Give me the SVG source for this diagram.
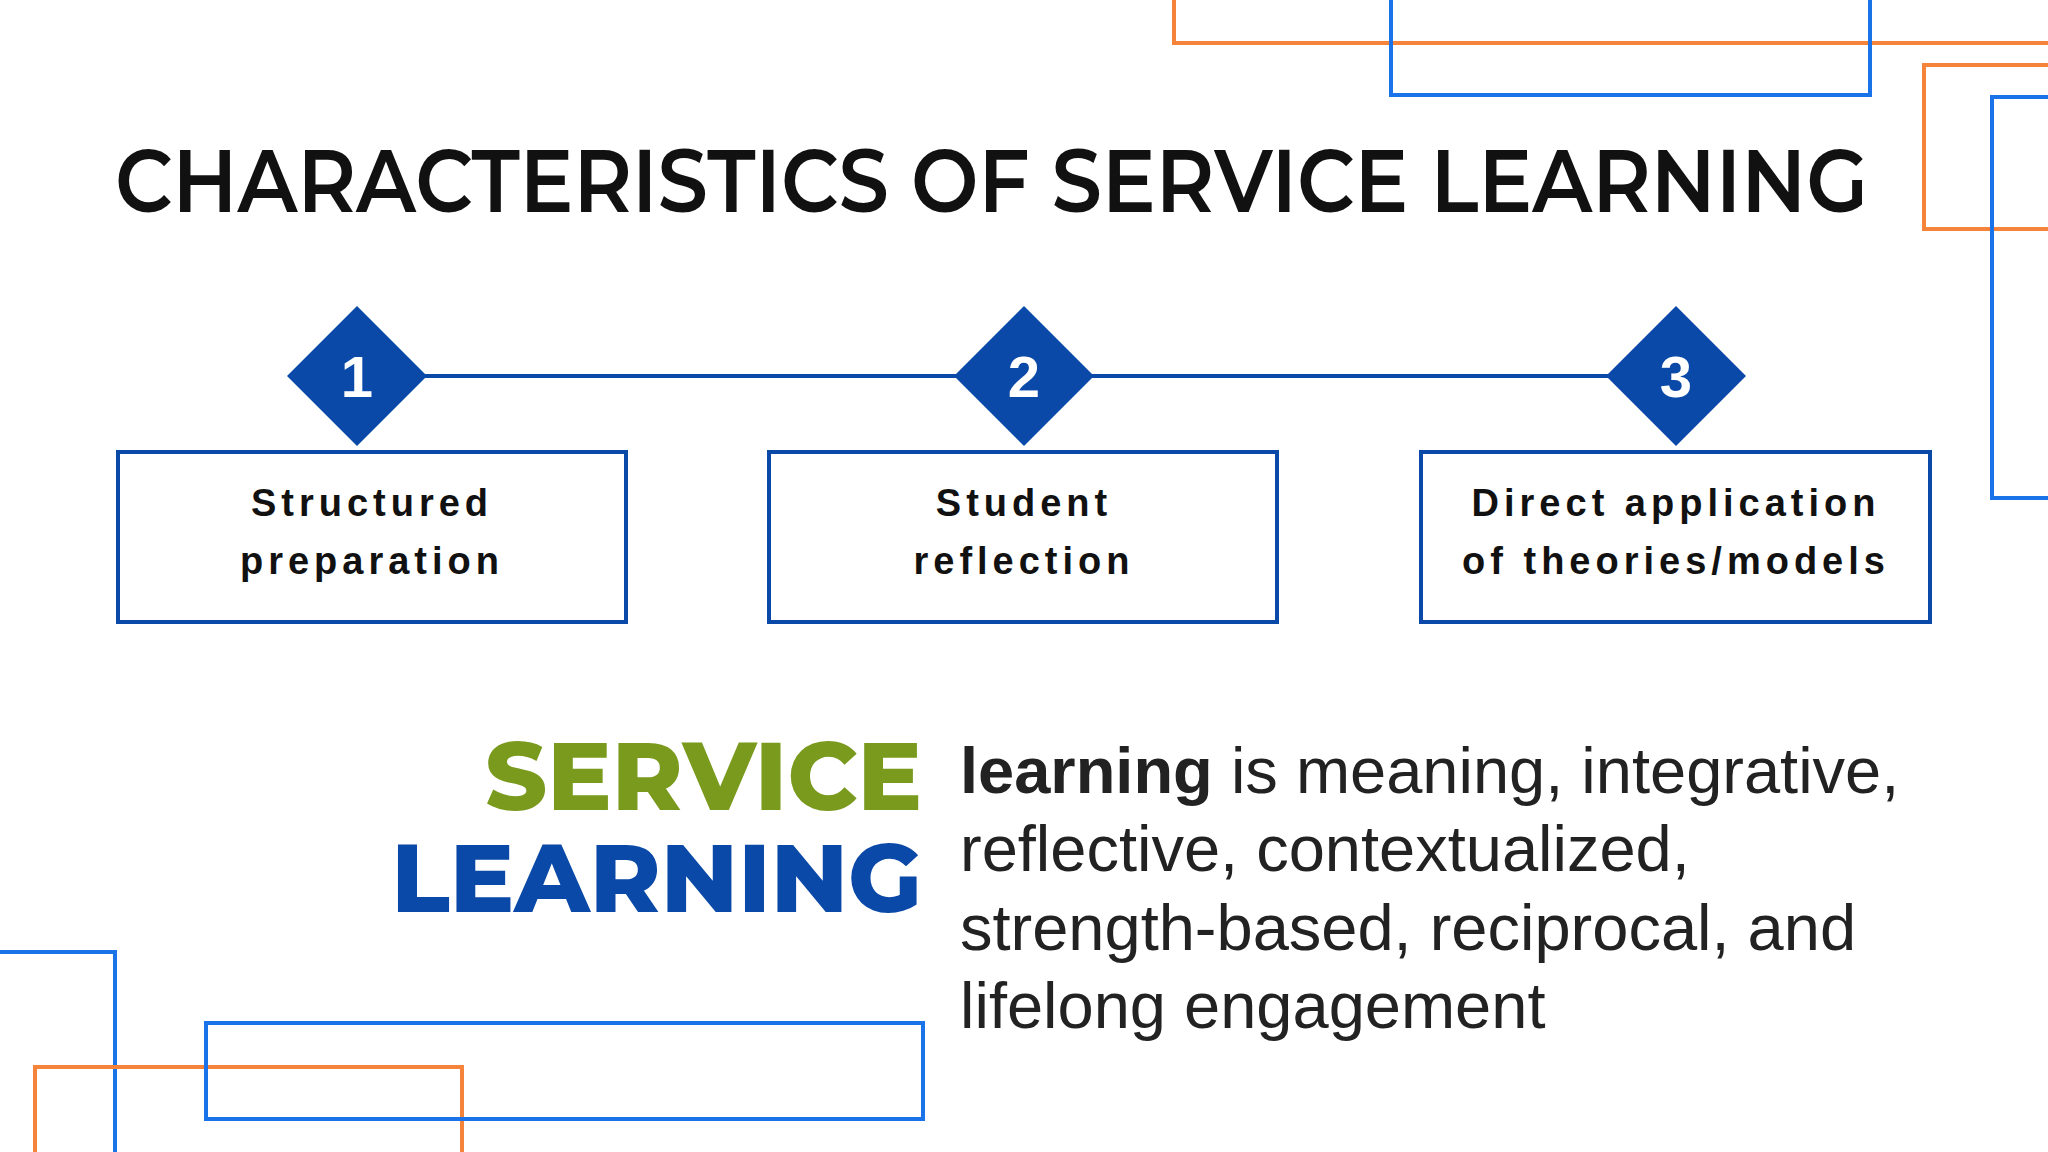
<svg xmlns="http://www.w3.org/2000/svg" width="2048" height="1152" viewBox="0 0 2048 1152">
<style>
.deco-o{fill:none;stroke:#f5843a;stroke-width:4}
.deco-b{fill:none;stroke:#1a73e8;stroke-width:4}
.box{fill:#fff;stroke:#0a49a8;stroke-width:4}
.dia{fill:#0a49a8}
.num{font-family:"Liberation Sans",Arial,sans-serif;font-weight:bold;font-size:58px;fill:#fff;text-anchor:middle}
.lbl{font-family:"Liberation Sans",Arial,sans-serif;font-weight:bold;font-size:38px;letter-spacing:5px;fill:#111;text-anchor:middle}
.para{font-family:"Liberation Sans",Arial,sans-serif;font-size:65px;fill:#222}
.big{font-family:Montserrat,"Open Sans","Liberation Sans",sans-serif;font-weight:800;font-size:96px;text-anchor:end}
</style>
<rect width="2048" height="1152" fill="#fff"/>
<g id="decor">
<rect class="deco-o" x="1174" y="-10" width="900" height="53"/>
<rect class="deco-b" x="1391" y="-10" width="479" height="105"/>
<rect class="deco-o" x="1924" y="65" width="200" height="164"/>
<rect class="deco-b" x="1992" y="97" width="200" height="401"/>
<rect class="deco-b" x="-10" y="952" width="125" height="250"/>
<rect class="deco-o" x="35" y="1067" width="427" height="150"/>
<rect class="deco-b" x="206" y="1023" width="717" height="96"/>
</g>
<text x="115" y="212" font-family="Montserrat,'Open Sans','Liberation Sans',sans-serif" font-weight="600" font-size="88" fill="#111" textLength="1753" lengthAdjust="spacingAndGlyphs">CHARACTERISTICS OF SERVICE LEARNING</text>
<g id="connectors"><line x1="357" y1="376" x2="1676" y2="376" stroke="#0a49a8" stroke-width="4"/></g>
<g id="n1">
<polygon class="dia" points="357,306 427,376 357,446 287,376"/>
<text class="num" x="357" y="397">1</text>
<rect class="box" x="118" y="452" width="508" height="170"/>
<text class="lbl" x="372" y="516">Structured</text>
<text class="lbl" x="372" y="574">preparation</text>
</g>
<g id="n2">
<polygon class="dia" points="1024,306 1094,376 1024,446 954,376"/>
<text class="num" x="1024" y="397">2</text>
<rect class="box" x="769" y="452" width="508" height="170"/>
<text class="lbl" x="1024" y="516">Student</text>
<text class="lbl" x="1024" y="574">reflection</text>
</g>
<g id="n3">
<polygon class="dia" points="1676,306 1746,376 1676,446 1606,376"/>
<text class="num" x="1676" y="397">3</text>
<rect class="box" x="1421" y="452" width="509" height="170"/>
<text class="lbl" x="1676" y="516">Direct application</text>
<text class="lbl" x="1676" y="574">of theories/models</text>
</g>
<g id="heading">
<text class="big" x="922" y="810" fill="#7a9a1e">SERVICE</text>
<text class="big" x="922" y="912" fill="#0a49a8">LEARNING</text>
</g>
<g id="para">
<text class="para" x="960" y="793"><tspan font-weight="bold">learning</tspan> is meaning, integrative,</text>
<text class="para" x="960" y="871">reflective, contextualized,</text>
<text class="para" x="960" y="950">strength-based, reciprocal, and</text>
<text class="para" x="960" y="1028">lifelong engagement</text>
</g>
</svg>
